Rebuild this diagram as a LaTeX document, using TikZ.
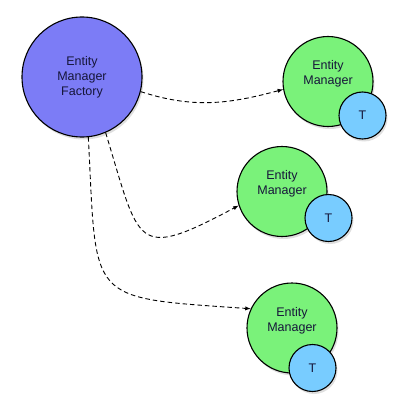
\documentclass[tikz,border=0pt]{standalone}
\usepackage{fontspec}
\setmainfont{Liberation Sans}
\usepackage{tikz}
\usetikzlibrary{arrows,shadows}

\definecolor{factoryblue}{RGB}{124,124,246}
\definecolor{emgreen}{RGB}{122,242,122}
\definecolor{tblue}{RGB}{120,204,255}
\definecolor{labelink}{RGB}{22,22,58}

\begin{document}
\begin{tikzpicture}[x=1pt,y=-1pt,->,>=latex,
    main node/.style={circle,draw,line width=1.1pt,inner sep=0pt,align=center,text=labelink,
      font=\fontsize{12.5}{15}\selectfont,
      drop shadow={opacity=0.25,shadow xshift=1.5pt,shadow yshift=-2.5pt}},
    factory node/.style={main node,fill=factoryblue,minimum size=120pt},
    em node/.style={main node,fill=emgreen,minimum size=90pt},
    t node/.style={main node,fill=tblue,minimum size=47pt},
    link/.style={line width=0.9pt,dash pattern=on 4.5pt off 3pt}]
  \useasboundingbox (0,0) rectangle (407,417);

  \node[factory node] (fac) at (82,77) {Entity\\Manager\\Factory};

  \node[em node] (em1) at (328,81.5) {Entity\\Manager\\[3pt]};
  \node[t node] (t1) at (362.5,115.5) {T};

  \node[em node] (em2) at (282,191.5) {Entity\\Manager\\[3pt]};
  \node[t node] (t2) at (328.5,218) {T};

  \node[em node] (em3) at (292,328) {Entity\\Manager\\[3pt]};
  \node[t node] (t3) at (312.5,368) {T};

  \draw[link] (fac.-14) to[out=-18,in=195] (em1.190);
  \draw[link] (fac.-67) to[out=-73,in=208,looseness=2] (em2.198);
  \draw[link] (fac.-84) to[out=-87,in=176,looseness=1.8] (em3.155);
\end{tikzpicture}
\end{document}
